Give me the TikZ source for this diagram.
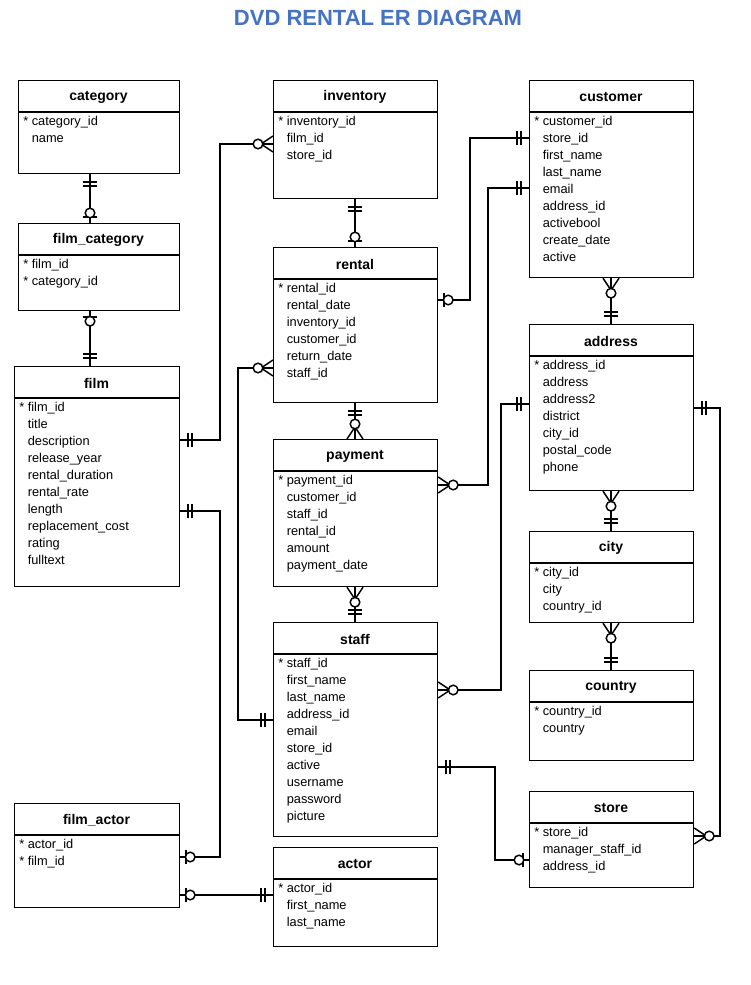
\documentclass[tikz,border=0pt]{standalone}
\usepackage{fontspec}
\setmainfont{Liberation Sans}
\definecolor{titleblue}{RGB}{68,114,196}
\tikzset{
  ent/.style={draw,line width=0.9pt,inner sep=0pt,anchor=north west},
  rows/.style={anchor=north west,align=left,inner sep=0pt,font=\fontsize{9.6}{12.75}\selectfont},
  hdr/.style={font=\bfseries\fontsize{10.5}{12}\selectfont},
  rel/.style={line width=1.1pt},
}
% crow's foot ends: position, outward angle
\newcommand{\mone}[2]{\draw[rel,shift={(#1)},rotate=#2] (8,-7)--(8,7) (12,-7)--(12,7);}
\newcommand{\mzo}[2]{\draw[rel,shift={(#1)},rotate=#2] (6,-7)--(6,7); \draw[rel,fill=white,shift={(#1)},rotate=#2] (10,0) circle[radius=3.6pt];}
\newcommand{\mzm}[2]{\draw[rel,shift={(#1)},rotate=#2] (0,-8)--(12,0)--(0,8) (0,0)--(12,0); \draw[rel,fill=white,shift={(#1)},rotate=#2] (15,0) circle[radius=3.6pt];}
% entity box: name, x1, y1, x2, y2, title, rows
\newcommand{\entity}[7]{%
  \pgfmathsetmacro\ew{(#4-#2)*0.75}\pgfmathsetmacro\eh{(#5-#3)*0.75}
  \node[ent,minimum width=\ew pt,minimum height=\eh pt] (#1) at (#2,#3) {};
  \draw[line width=0.9pt] (#2,#3+32) -- (#4,#3+32);
  \node[hdr] (#1-t) at ({(#2+#4)/2},#3+17) {#6};
  \node[rows] (#1-r) at (#2+5,#3+36) {#7};
}
\newcommand{\pk}{*\ }
\newcommand{\nk}{\hphantom{*\ }}

\begin{document}
\begin{tikzpicture}[x=0.75pt,y=-0.75pt]
\useasboundingbox (0,0) rectangle (750,985);
\node[font=\bfseries\fontsize{16.5}{18}\selectfont,text=titleblue] (title) at (378,18) {DVD RENTAL ER DIAGRAM};

%entities
\entity{cat}{18}{80}{179}{173}{category}{\pk category\_id\\\nk name}
\entity{fcat}{18}{223}{179}{310}{film\_category}{\pk film\_id\\\pk category\_id}
\entity{film}{14}{366}{179}{586}{film}{\pk film\_id\\\nk title\\\nk description\\\nk release\_year\\\nk rental\_duration\\\nk rental\_rate\\\nk length\\\nk replacement\_cost\\\nk rating\\\nk fulltext}
\entity{factor}{14}{803}{179}{907}{film\_actor}{\pk actor\_id\\\pk film\_id}
\entity{inv}{273}{80}{437}{198}{inventory}{\pk inventory\_id\\\nk film\_id\\\nk store\_id}
\entity{rental}{273}{247}{437}{402}{rental}{\pk rental\_id\\\nk rental\_date\\\nk inventory\_id\\\nk customer\_id\\\nk return\_date\\\nk staff\_id}
\entity{pay}{273}{439}{437}{586}{payment}{\pk payment\_id\\\nk customer\_id\\\nk staff\_id\\\nk rental\_id\\\nk amount\\\nk payment\_date}
\entity{staff}{273}{622}{437}{836}{staff}{\pk staff\_id\\\nk first\_name\\\nk last\_name\\\nk address\_id\\\nk email\\\nk store\_id\\\nk active\\\nk username\\\nk password\\\nk picture}
\entity{actor}{273}{847}{437}{946}{actor}{\pk actor\_id\\\nk first\_name\\\nk last\_name}
\entity{cust}{529}{80}{693}{277}{customer}{\pk customer\_id\\\nk store\_id\\\nk first\_name\\\nk last\_name\\\nk email\\\nk address\_id\\\nk activebool\\\nk create\_date\\\nk active}
\entity{addr}{529}{324}{693}{490}{address}{\pk address\_id\\\nk address\\\nk address2\\\nk district\\\nk city\_id\\\nk postal\_code\\\nk phone}
\entity{city}{529}{531}{693}{622}{city}{\pk city\_id\\\nk city\\\nk country\_id}
\entity{country}{529}{670}{693}{760}{country}{\pk country\_id\\\nk country}
\entity{store}{529}{791}{693}{887}{store}{\pk store\_id\\\nk manager\_staff\_id\\\nk address\_id}

%relations
\draw[rel] (cat.south -| 90,0) -- (fcat.north -| 90,0);
\mone{cat.south -| 90,0}{-90} \mzo{fcat.north -| 90,0}{90}
\draw[rel] (fcat.south -| 90,0) -- (film.north -| 90,0);
\mzo{fcat.south -| 90,0}{-90} \mone{film.north -| 90,0}{90}
\draw[rel] (film.east |- 0,440) -| (220,300) |- (inv.west |- 0,144);
\mone{film.east |- 0,440}{0} \mzm{inv.west |- 0,144}{180}
\draw[rel] (film.east |- 0,511) -| (220,700) |- (factor.east |- 0,857);
\mone{film.east |- 0,511}{0} \mzo{factor.east |- 0,857}{0}
\draw[rel] (factor.east |- 0,895) -- (actor.west |- 0,895);
\mzo{factor.east |- 0,895}{0} \mone{actor.west |- 0,895}{180}
\draw[rel] (inv.south -| 355,0) -- (rental.north -| 355,0);
\mone{inv.south -| 355,0}{-90} \mzo{rental.north -| 355,0}{90}
\draw[rel] (rental.east |- 0,300) -| (470,200) |- (cust.west |- 0,138);
\mzo{rental.east |- 0,300}{0} \mone{cust.west |- 0,138}{180}
\draw[rel] (rental.west |- 0,368) -| (238,500) |- (staff.west |- 0,720);
\mzm{rental.west |- 0,368}{180} \mone{staff.west |- 0,720}{180}
\draw[rel] (rental.south -| 355,0) -- (pay.north -| 355,0);
\mone{rental.south -| 355,0}{-90} \mzm{pay.north -| 355,0}{90}
\draw[rel] (pay.east |- 0,485) -| (488,300) |- (cust.west |- 0,188);
\mzm{pay.east |- 0,485}{0} \mone{cust.west |- 0,188}{180}
\draw[rel] (pay.south -| 355,0) -- (staff.north -| 355,0);
\mzm{pay.south -| 355,0}{-90} \mone{staff.north -| 355,0}{90}
\draw[rel] (cust.south -| 611,0) -- (addr.north -| 611,0);
\mzm{cust.south -| 611,0}{-90} \mone{addr.north -| 611,0}{90}
\draw[rel] (staff.east |- 0,690) -| (501,500) |- (addr.west |- 0,404);
\mzm{staff.east |- 0,690}{0} \mone{addr.west |- 0,404}{180}
\draw[rel] (addr.south -| 611,0) -- (city.north -| 611,0);
\mzm{addr.south -| 611,0}{-90} \mone{city.north -| 611,0}{90}
\draw[rel] (city.south -| 611,0) -- (country.north -| 611,0);
\mzm{city.south -| 611,0}{-90} \mone{country.north -| 611,0}{90}
\draw[rel] (addr.east |- 0,408) -| (720,600) |- (store.east |- 0,836);
\mone{addr.east |- 0,408}{0} \mzm{store.east |- 0,836}{0}
\draw[rel] (staff.east |- 0,767) -| (495,800) |- (store.west |- 0,860);
\mone{staff.east |- 0,767}{0} \mzo{store.west |- 0,860}{180}
\end{tikzpicture}
\end{document}
